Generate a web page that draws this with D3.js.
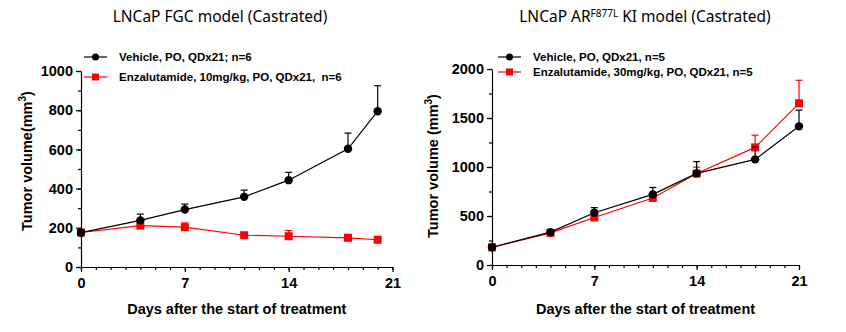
<!DOCTYPE html>
<html>
  <head>
    <meta charset="utf-8">
    <title>Tumor volume</title>
    <style>
      body { margin: 0; background: #fff; }
      svg { display: block; }
      .tick text { font-family: Arial, "Liberation Sans", sans-serif; font-weight: bold; font-size: 14.5px; fill: #000; }
      .domain, .tick line { stroke: #000; stroke-width: 1.2px; }
    </style>
    <script src="https://d3js.org/d3.v7.min.js"></script>
  </head>
  <body>
    <svg id="chart" width="846" height="332"></svg>
    <script>
      // left panel: LNCaP FGC
      var daysA = [0, 4, 7, 11, 14, 18, 20];
      var vehA = [175, 238, 293, 358, 443, 603, 795];
      var vehAErr = [15, 32, 28, 34, 40, 80, 130];
      var enzA = [176, 211, 203, 162, 157, 149, 139];
      var enzAErr = [14, 14, 22, 13, 29, 16, 12];

      // right panel: LNCaP AR F877L KI
      var daysB = [0, 4, 7, 11, 14, 18, 21];
      var vehB = [181, 335, 533, 721, 935, 1078, 1415];
      var vehBErr = [15, 20, 52, 70, 120, 125, 165];
      var enzB = [180, 328, 485, 684, 933, 1200, 1650];
      var enzBErr = [15, 18, 35, 30, 65, 125, 235];

      var xTicks = [0, 7, 14, 21];
      var yTicksA = [0, 200, 400, 600, 800, 1000];
      var yTicksB = [0, 500, 1000, 1500, 2000];

      var svg = d3.select("#chart");
      var labelFont = "Arial, 'Liberation Sans', sans-serif";

      function panel(opt) {
        var g = svg.append("g");
        var x = d3.scaleLinear().domain([0, 21]).range(opt.xr);
        var y = d3.scaleLinear().domain([0, opt.ymax]).range(opt.yr);

        // minor ticks
        g.append("g").attr("transform", "translate(0," + opt.yr[0] + ")")
          .call(d3.axisBottom(x).tickValues(d3.range(0, 22)).tickSize(3).tickFormat(""))
          .call(function(s) { s.select(".domain").remove(); });
        g.append("g").attr("transform", "translate(" + opt.xr[0] + ",0)")
          .call(d3.axisLeft(y).tickValues(d3.range(0, opt.ymax + 1, opt.minor)).tickSize(3).tickFormat(""))
          .call(function(s) { s.select(".domain").remove(); });

        // major axes
        g.append("g").attr("transform", "translate(0," + opt.yr[0] + ")")
          .call(d3.axisBottom(x).tickValues(xTicks).tickSize(5).tickSizeOuter(0).tickPadding(6));
        g.append("g").attr("transform", "translate(" + opt.xr[0] + ",0)")
          .call(d3.axisLeft(y).tickValues(opt.yticks).tickFormat(d3.format("d"))
            .tickSize(5).tickSizeOuter(0).tickPadding(3));

        var series = [
          { days: opt.days, v: opt.enz, e: opt.enzErr, color: "#ff0000", shape: "square" },
          { days: opt.days, v: opt.veh, e: opt.vehErr, color: "#000000", shape: "circle" }
        ];

        series.forEach(function(s) {
          var pts = s.days.map(function(d, i) { return { d: d, v: s.v[i], e: s.e[i] }; });
          var eb = g.append("g").attr("stroke", s.color).attr("stroke-width", 1.2);
          eb.selectAll("line.bar").data(pts).enter().append("line")
            .attr("x1", function(p) { return x(p.d); }).attr("x2", function(p) { return x(p.d); })
            .attr("y1", function(p) { return y(p.v); }).attr("y2", function(p) { return y(p.v + p.e); });
          eb.selectAll("line.cap").data(pts).enter().append("line")
            .attr("x1", function(p) { return x(p.d) - 3.5; }).attr("x2", function(p) { return x(p.d) + 3.5; })
            .attr("y1", function(p) { return y(p.v + p.e); }).attr("y2", function(p) { return y(p.v + p.e); });

          g.append("path").datum(pts)
            .attr("fill", "none").attr("stroke", s.color).attr("stroke-width", 1.2)
            .attr("d", d3.line().x(function(p) { return x(p.d); }).y(function(p) { return y(p.v); }));

          if (s.shape === "circle") {
            g.selectAll(null).data(pts).enter().append("circle")
              .attr("cx", function(p) { return x(p.d); }).attr("cy", function(p) { return y(p.v); })
              .attr("r", 4.2).attr("fill", s.color);
          } else {
            g.selectAll(null).data(pts).enter().append("rect")
              .attr("x", function(p) { return x(p.d) - 4; }).attr("y", function(p) { return y(p.v) - 4; })
              .attr("width", 8).attr("height", 8).attr("fill", s.color);
          }
        });

        // legend
        var leg = [
          { t: opt.legend[0], color: "#000", shape: "circle", y: opt.legY[0] },
          { t: opt.legend[1], color: "#ff0000", shape: "square", y: opt.legY[1] }
        ];
        leg.forEach(function(l) {
          var lx = opt.legX;
          g.append("line").attr("x1", lx).attr("x2", lx + 23).attr("y1", l.y).attr("y2", l.y)
            .attr("stroke", l.color).attr("stroke-width", 1.2);
          if (l.shape === "circle") {
            g.append("circle").attr("cx", lx + 11.5).attr("cy", l.y).attr("r", 3.5).attr("fill", l.color);
          } else {
            g.append("rect").attr("x", lx + 8).attr("y", l.y - 3.5).attr("width", 7).attr("height", 7).attr("fill", l.color);
          }
          g.append("text").attr("x", lx + 35).attr("y", l.y + 4)
            .attr("font-family", labelFont).attr("font-weight", "bold").attr("font-size", "11.5px")
            .attr("xml:space", "preserve").text(l.t);
        });

        // titles
        var cx = (opt.xr[0] + opt.xr[1]) / 2;
        var title = g.append("text").attr("x", opt.titleX).attr("y", 22).attr("text-anchor", "middle")
          .attr("font-family", "'Noto Sans', 'Open Sans', sans-serif").attr("font-size", "15.5px");
        opt.title(title);

        g.append("text").attr("x", cx).attr("y", 314).attr("text-anchor", "middle")
          .attr("font-family", labelFont).attr("font-weight", "bold").attr("font-size", "14.5px")
          .text("Days after the start of treatment");

        var yt = g.append("text")
          .attr("transform", "translate(" + opt.yTitleX + "," + opt.yTitleY + ") rotate(-90)")
          .attr("text-anchor", "middle")
          .attr("font-family", labelFont).attr("font-weight", "bold").attr("font-size", "14.5px");
        yt.append("tspan").text(opt.yTitle);
        yt.append("tspan").attr("dy", -6).attr("font-size", "10px").text("3");
        yt.append("tspan").attr("dy", 6).text(")");
      }

      panel({
        xr: [81, 392.5], yr: [267, 71], ymax: 1000, minor: 100, yticks: yTicksA,
        days: daysA, veh: vehA, vehErr: vehAErr, enz: enzA, enzErr: enzAErr,
        legX: 84, legY: [57, 77],
        legend: ["Vehicle, PO, QDx21; n=6", "Enzalutamide, 10mg/kg, PO, QDx21,  n=6"],
        titleX: 220,
        title: function(t) { t.text("LNCaP FGC model (Castrated)"); },
        yTitleX: 32, yTitleY: 161, yTitle: "Tumor volume(mm"
      });

      panel({
        xr: [492, 799], yr: [265, 69], ymax: 2000, minor: 250, yticks: yTicksB,
        days: daysB, veh: vehB, vehErr: vehBErr, enz: enzB, enzErr: enzBErr,
        legX: 498, legY: [57, 72],
        legend: ["Vehicle, PO, QDx21, n=5", "Enzalutamide, 30mg/kg, PO, QDx21, n=5"],
        titleX: 645,
        title: function(t) {
          t.append("tspan").text("LNCaP AR");
          t.append("tspan").attr("dy", -5).attr("font-size", "10px").text("F877L");
          t.append("tspan").attr("dy", 5).text(" KI model (Castrated)");
        },
        yTitleX: 438, yTitleY: 166, yTitle: "Tumor volume (mm"
      });
    </script>
  </body>
</html>
